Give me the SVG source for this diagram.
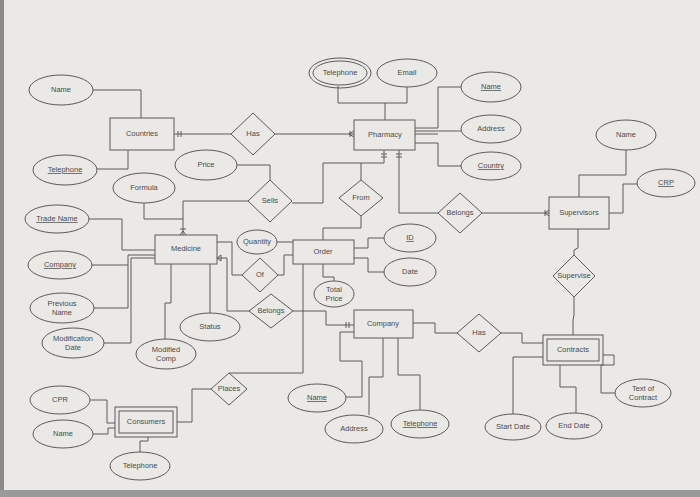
<svg xmlns="http://www.w3.org/2000/svg" width="700" height="497" viewBox="0 0 700 497">
<style>
.e,.r,.d{fill:none;stroke:#5a5a5a;stroke-width:1}
.c polyline,.c path{fill:none;stroke:#5a5a5a;stroke-width:1}
text{font-family:"Liberation Sans",Arial,sans-serif;font-size:7.5px;fill:#4a4a4a;text-anchor:middle;dominant-baseline:middle}
.u{text-decoration:underline}
</style>
<rect width="700" height="497" fill="#ebe9e6"/>
<rect x="0" y="0" width="4" height="497" fill="#8a8a8a"/>
<rect x="0" y="490" width="700" height="7" fill="#9a9a9a"/>
<g class="c">
<polyline points="93,90 141,90 141,118"/>
<polyline points="128,150 128,169 97,169"/>
<polyline points="174,134 231,134"/>
<polyline points="275,134 354,134"/>
<path d="M178,131v6M181,131v6M350,131v6M354,131l-5,3 5,3"/>
<polyline points="338,86 338,103 385,103 385,120"/>
<polyline points="407,87 407,103 385,103"/>
<polyline points="415,128 438,128 438,87 461,87"/>
<polyline points="415,131 461,131"/>
<polyline points="415,134 438,134"/>
<polyline points="415,143 438,143 438,166 461,166"/>
<polyline points="384,150 384,163 323,163 323,203 292,203"/>
<path d="M381,154h6M381,157h6M396,154h6M396,157h6"/>
<polyline points="361,180 361,163"/>
<polyline points="361,216 361,228 323,228 323,240"/>
<polyline points="399,150 399,213 438,213"/>
<polyline points="482,213 549,213"/>
<path d="M545,210v6M549,210l-4,3 4,3"/>
<polyline points="579,197 579,175 626,175 626,150"/>
<polyline points="609,213 623,213 623,184 637,184"/>
<polyline points="578,229 578,248 574,250 574,255"/>
<polyline points="574,297 574,315 573,320 573,335"/>
<polyline points="248,201 183,201 183,235"/>
<path d="M180,229h6M183,231l-3,4M183,231l3,4"/>
<polyline points="270,180 270,165 237,165"/>
<polyline points="144,203 144,219 183,219"/>
<polyline points="89,219 122,219 122,250 155,250"/>
<polyline points="155,255 128,255 128,308 94,308"/>
<polyline points="155,258 131,258 131,343 104,343"/>
<polyline points="92,265 128,265"/>
<polyline points="171,264 171,303 165,303 165,339"/>
<polyline points="210,264 210,313"/>
<polyline points="217,242 232,242 232,275 242,275"/>
<polyline points="278,275 284,275 284,255 293,255"/>
<polyline points="217,258 227,258 227,311 249,311"/>
<path d="M221,255v6M217,258l4,-3M217,258l4,3"/>
<polyline points="293,311 326,311 326,325 354,325"/>
<path d="M346,322v6M349,322v6"/>
<polyline points="277,242 293,242"/>
<polyline points="354,248 368,248 368,238 384,238"/>
<polyline points="354,258 368,258 368,272 384,272"/>
<polyline points="323,264 323,277 334,277 334,281"/>
<polyline points="303,264 303,373 229,373"/>
<polyline points="211,389 192,389 192,422 177,422"/>
<polyline points="90,400 107,400 107,423 115,423"/>
<polyline points="93,434 108,434 108,428 115,428"/>
<polyline points="148,437 148,441 140,441 140,452"/>
<polyline points="346,397 362,397 362,361 340,361 340,332 354,332"/>
<polyline points="383,338 383,377 369,377 369,415"/>
<polyline points="398,338 398,375 420,375 420,410"/>
<polyline points="413,323 435,323 435,333 457,333"/>
<polyline points="501,333 522,333 522,343 543,343"/>
<polyline points="543,357 513,357 513,414"/>
<polyline points="560,365 560,387 576,387 576,413"/>
<polyline points="603,355 614,355 614,365 601,365 601,393 615,393"/>
</g>
<g id="countries"><rect class="r" x="110" y="118" width="64" height="32"/><text x="142" y="134">Countries</text></g>
<g id="medicine"><rect class="r" x="155" y="235" width="62" height="29"/><text x="186" y="249">Medicine</text></g>
<g id="order"><rect class="r" x="293" y="240" width="61" height="24"/><text x="323" y="252">Order</text></g>
<g id="pharmacy"><rect class="r" x="354" y="120" width="61" height="30"/><text x="385" y="135">Pharmacy</text></g>
<g id="supervisors"><rect class="r" x="549" y="197" width="60" height="32"/><text x="579" y="213">Supervisors</text></g>
<g id="company"><rect class="r" x="354" y="310" width="59" height="28"/><text x="383" y="324">Company</text></g>
<g id="contracts"><rect class="r" x="543" y="335" width="60" height="30"/><rect class="r" x="547" y="339" width="52" height="22"/><text x="573" y="350">Contracts</text></g>
<g id="consumers"><rect class="r" x="115" y="407" width="62" height="30"/><rect class="r" x="119" y="411" width="54" height="22"/><text x="146" y="422">Consumers</text></g>
<g id="has1"><polygon class="d" points="253,113 275,134 253,155 231,134"/><text x="253" y="134">Has</text></g>
<g id="sells"><polygon class="d" points="270,180 292,201 270,222 248,201"/><text x="270" y="201">Sells</text></g>
<g id="from"><polygon class="d" points="361,180 383,198 361,216 339,198"/><text x="361" y="198">From</text></g>
<g id="of"><polygon class="d" points="260,258 278,275 260,292 242,275"/><text x="260" y="275">Of</text></g>
<g id="belongs1"><polygon class="d" points="271,294 293,311 271,328 249,311"/><text x="271" y="311">Belongs</text></g>
<g id="belongs2"><polygon class="d" points="460,193 482,213 460,233 438,213"/><text x="460" y="213">Belongs</text></g>
<g id="supervise"><polygon class="d" points="574,255 595,276 574,297 553,276"/><text x="574" y="276">Supervise</text></g>
<g id="has2"><polygon class="d" points="479,314 501,333 479,352 457,333"/><text x="479" y="333">Has</text></g>
<g id="places"><polygon class="d" points="229,373 247,389 229,405 211,389"/><text x="229" y="389">Places</text></g>
<g id="a1"><ellipse class="e" cx="61" cy="90" rx="32" ry="15"/><text x="61" y="90">Name</text></g>
<g id="a2"><ellipse class="e" cx="65" cy="170" rx="32" ry="15"/><text class="u" x="65" y="170">Telephone</text></g>
<g id="a3"><ellipse class="e" cx="57" cy="219" rx="32" ry="14"/><text class="u" x="57" y="219">Trade Name</text></g>
<g id="a4"><ellipse class="e" cx="60" cy="265" rx="32" ry="14"/><text class="u" x="60" y="265">Company</text></g>
<g id="a5"><ellipse class="e" cx="62" cy="308" rx="32" ry="15"/><text x="62" y="304">Previous</text><text x="62" y="313">Name</text></g>
<g id="a6"><ellipse class="e" cx="73" cy="343" rx="31" ry="15"/><text x="73" y="339">Modification</text><text x="73" y="348">Date</text></g>
<g id="a7"><ellipse class="e" cx="144" cy="188" rx="31" ry="15"/><text x="144" y="188">Formula</text></g>
<g id="a8"><ellipse class="e" cx="206" cy="165" rx="31" ry="15"/><text x="206" y="165">Price</text></g>
<g id="a9"><ellipse class="e" cx="257" cy="242" rx="20" ry="12"/><text x="257" y="242">Quantity</text></g>
<g id="a10"><ellipse class="e" cx="210" cy="327" rx="30" ry="14"/><text x="210" y="327">Status</text></g>
<g id="a11"><ellipse class="e" cx="166" cy="354" rx="30" ry="15"/><text x="166" y="350">Modified</text><text x="166" y="359">Comp</text></g>
<g id="a12"><ellipse class="e" cx="60" cy="400" rx="30" ry="14"/><text x="60" y="400">CPR</text></g>
<g id="a13"><ellipse class="e" cx="63" cy="434" rx="30" ry="14"/><text x="63" y="434">Name</text></g>
<g id="a14"><ellipse class="e" cx="140" cy="466" rx="30" ry="14"/><text x="140" y="466">Telephone</text></g>
<g id="a15"><ellipse class="e" cx="317" cy="398" rx="29" ry="14"/><text class="u" x="317" y="398">Name</text></g>
<g id="a16"><ellipse class="e" cx="354" cy="429" rx="29" ry="14"/><text x="354" y="429">Address</text></g>
<g id="a17"><ellipse class="e" cx="420" cy="424" rx="29" ry="14"/><text class="u" x="420" y="424">Telephone</text></g>
<g id="a18"><ellipse class="e" cx="513" cy="427" rx="28" ry="13"/><text x="513" y="427">Start Date</text></g>
<g id="a19"><ellipse class="e" cx="574" cy="426" rx="28" ry="13"/><text x="574" y="426">End Date</text></g>
<g id="a20"><ellipse class="e" cx="643" cy="393" rx="28" ry="14"/><text x="643" y="389">Text of</text><text x="643" y="398">Contract</text></g>
<g id="a21"><ellipse class="e" cx="340" cy="73" rx="31" ry="15"/><ellipse class="e" cx="340" cy="73" rx="27" ry="12"/><text x="340" y="73">Telephone</text></g>
<g id="a22"><ellipse class="e" cx="407" cy="73" rx="30" ry="14"/><text x="407" y="73">Email</text></g>
<g id="a23"><ellipse class="e" cx="491" cy="87" rx="30" ry="15"/><text class="u" x="491" y="87">Name</text></g>
<g id="a24"><ellipse class="e" cx="491" cy="129" rx="30" ry="14"/><text x="491" y="129">Address</text></g>
<g id="a25"><ellipse class="e" cx="491" cy="166" rx="30" ry="14"/><text class="u" x="491" y="166">Country</text></g>
<g id="a26"><ellipse class="e" cx="626" cy="135" rx="30" ry="15"/><text x="626" y="135">Name</text></g>
<g id="a27"><ellipse class="e" cx="666" cy="183" rx="29" ry="14"/><text class="u" x="666" y="183">CRP</text></g>
<g id="a28"><ellipse class="e" cx="410" cy="238" rx="26" ry="14"/><text class="u" x="410" y="238">ID</text></g>
<g id="a29"><ellipse class="e" cx="410" cy="272" rx="26" ry="14"/><text x="410" y="272">Date</text></g>
<g id="a30"><ellipse class="e" cx="334" cy="294" rx="20" ry="13"/><text x="334" y="290">Total</text><text x="334" y="299">Price</text></g>
</svg>
